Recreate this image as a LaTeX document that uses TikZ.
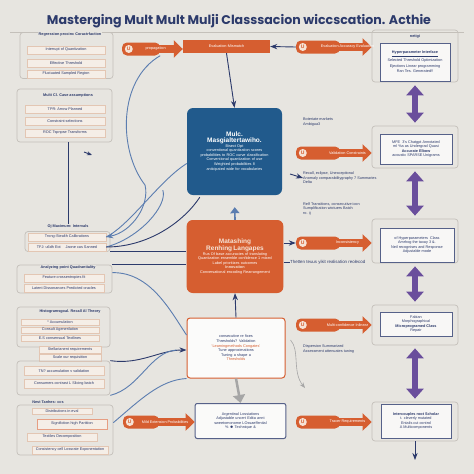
\documentclass[tikz,border=0pt]{standalone}
\usepackage{fontspec}
\setmainfont{Liberation Sans}
\newfontfamily\titlefont{Poppins}
\usepackage{tikz}
\usetikzlibrary{positioning}
\usetikzlibrary{arrows.meta}
\usetikzlibrary{calc}
\definecolor{bgc}{HTML}{E7E5E0}
\definecolor{navyc}{HTML}{2C3A6B}
\definecolor{orangec}{HTML}{D65E30}
\definecolor{bluec}{HTML}{215A8C}
\definecolor{purplec}{HTML}{6A4E9C}
\definecolor{steelc}{HTML}{5B7DB0}
\definecolor{panelc}{HTML}{C4C0BA}
\definecolor{rowfill}{HTML}{F5EEE7}
\definecolor{rowline}{HTML}{E3C6B3}
\definecolor{creamc}{HTML}{F6E3D6}
\newcommand{\tinyf}{\fontsize{3.8}{4.6}\selectfont}
\newcommand{\smallf}{\fontsize{4.4}{5.6}\selectfont}
\tikzstyle{panel}=[draw=panelc, rounded corners=3pt, line width=0.7pt]
\tikzstyle{rowbox}=[draw=rowline, fill=rowfill, line width=0.4pt, minimum height=8pt, inner sep=0.5pt, font=\tinyf, text=navyc]
\tikzstyle{hdr}=[fill=bgc, inner sep=1pt, font=\tinyf\bfseries, text=navyc]
\tikzstyle{rbox}=[draw=navyc!80, fill=white!70!bgc, line width=0.8pt, inner sep=1pt, align=center, font=\tinyf, text=navyc]
\tikzstyle{pill}=[fill=orangec, rounded corners=5pt, minimum height=13pt, minimum width=40pt]
\tikzstyle{icon}=[circle, fill=creamc, minimum size=8pt, inner sep=0pt, font=\fontsize{5}{5}\selectfont\bfseries, text=orangec]
\tikzstyle{oarrow}=[draw=orangec, line width=8pt, -{Triangle[length=9pt,width=17pt]}]
\tikzstyle{olabel}=[font=\tinyf, text=white]
\tikzstyle{parrow}=[draw=purplec, line width=6.5pt, {Triangle[length=10pt,width=17pt]}-{Triangle[length=10pt,width=17pt]}, shorten <=3pt, shorten >=3pt]
\tikzstyle{nline}=[draw=navyc, line width=0.9pt]
\tikzstyle{bcurve}=[draw=steelc, line width=0.9pt]
\tikzstyle{note}=[align=left, anchor=west, font=\tinyf, text=navyc, inner sep=0pt]

\begin{document}
\begin{tikzpicture}[x=1pt,y=-1pt]
	\fill[bgc] (0,0) rectangle (474,474);
	\node[font=\titlefont\bfseries\fontsize{12.6}{15}\selectfont, text=navyc] (title) at (239,21) {Masterging Mult Mult Mulji Classsacion wiccscation. Acthie};
	\draw[panelc, line width=0.5pt] (10,32) coordinate (ruleL) -- (464,32) coordinate (ruleR);
	% left column
	\node[panel, minimum width=93pt, minimum height=46pt] (L1) at (66.5,55.5) {};
	\node[hdr] (L1h) at (70,35) {Regression procinc Coractrfaction};
	\node[rowbox, minimum width=78pt] (L1a) at (66,50) {Interrupt of Quantization};
	\node[rowbox, minimum width=78pt] (L1b) at (66,63) {Effective Threshold};
	\node[rowbox, minimum width=78pt] (L1c) at (66,74) {Fluctuated Sampled Region};
	\node[panel, minimum width=95pt, minimum height=53pt] (L2) at (64.5,115.5) {};
	\node[hdr] (L2h) at (68,96) {Multi Cl. Case assumptions};
	\node[rowbox, minimum width=80pt] (L2a) at (65,109) {TPR: Arrow Planned};
	\node[rowbox, minimum width=80pt] (L2b) at (65,121) {Constraint selections};
	\node[rowbox, minimum width=80pt] (L2c) at (65,133) {ROC Tspnpse Transforms};
	\node[hdr] (L3h) at (68,227) {Oj Maximum: Intervals};
	\node[panel, minimum width=85pt, minimum height=20pt] (L3) at (67.5,241.5) {};
	\node[rowbox, minimum width=78pt] (L3a) at (67,237) {Trong-Stealth Calibrations};
	\node[rowbox, minimum width=78pt] (L3b) at (67,247) {TFJ: u6dh Eot \quad Jaone cas Sanned};
	\node[panel, minimum width=95pt, minimum height=28pt] (L4) at (64.5,279) {};
	\node[hdr] (L4h) at (68,268) {Analyzing point Quadrantiality};
	\node[rowbox, minimum width=80pt] (L4a) at (64,278) {Feature crossentropies fit};
	\node[rowbox, minimum width=80pt] (L4b) at (64,288) {Latent Dissonances Predicted oracles};
	\node[panel, minimum width=93pt, minimum height=40pt] (L5) at (63.5,327) {};
	\node[hdr] (L5h) at (70,312) {Histogramsgoal. Recall Al Theory};
	\node[rowbox, minimum width=78pt, minimum height=6pt] (L5a) at (60,322) {* Accumulation};
	\node[rowbox, minimum width=78pt, minimum height=6pt] (L5b) at (60,330) {Consult Agenerilation};
	\node[rowbox, minimum width=78pt, minimum height=6pt] (L5c) at (60,338) {E.S consensual Textlines};
	\node[rowbox, minimum width=62pt, minimum height=7pt] (L5d) at (70,350) {Stellarianent requirements};
	\node[rowbox, minimum width=62pt, minimum height=7pt] (L5e) at (70,358) {Scale our requisition};
	\node[panel, minimum width=93pt, minimum height=34pt] (L6) at (63.5,378) {};
	\node[rowbox, minimum width=80pt, minimum height=9pt] (L6a) at (64,371) {TN? accumulation v validation};
	\node[rowbox, minimum width=80pt, minimum height=9pt] (L6b) at (64,384) {Consumers contrast L Slicing batch};
	\node[panel, minimum width=96pt, minimum height=50pt] (L7) at (65,430) {};
	\node[hdr] (L7h) at (48,402) {Nest Tanhes: ccs};
	\node[rowbox, minimum width=60pt, minimum height=6pt] (L7a) at (62,411) {Distributions in eval};
	\node[rowbox, minimum width=70pt, minimum height=10pt, draw=orangec!60] (L7b) at (72,424) {Significtion high Partition};
	\node[rowbox, minimum width=70pt] (L7c) at (62,437) {Textiles Decomposition};
	\node[rowbox, minimum width=76pt] (L7d) at (70,450) {Consistency cell Lossrate Exponentation};
	\coordinate (mark) at (92,155);
	% centre column
	\node[fill=orangec, minimum width=87pt, minimum height=13pt, inner sep=0pt, font=\tinyf, text=white] (bar) at (226.5,46.5) {Evaluation-Mismatch};
	\node[fill=bluec, rounded corners=6pt, minimum width=95pt, minimum height=87pt, text width=88pt, align=center, text=white, font=\tinyf] (blue) at (234.5,151.5) {{\fontsize{6.5}{9}\selectfont\bfseries Mulc.}\\{\fontsize{6.5}{9}\selectfont\bfseries Masgialtertawiho.}\\Bisect Opt\\conventional quantization scores\\probabilities to ROC curve classification\\Conventional quantization of use\\Weighted probabilities 8\\anticipated wide for vocabularies};
	\node[fill=orangec, rounded corners=6pt, minimum width=96pt, minimum height=73pt, text width=90pt, align=center, text=white, font=\tinyf] (orange) at (235,256.5) {{\fontsize{6.5}{8.5}\selectfont\bfseries\color{creamc} Matashing}\\{\fontsize{6.5}{9}\selectfont\bfseries\color{creamc} Renhing Langapes}\\Rus Of base accuracies of translating\\Quantization ensemble confidence 1 mixed\\Label prioritizes outcomes\\{\bfseries\color{creamc} Innovation}\\Conversational encoding Rearrangement};
	\node[draw=orangec, fill=white!85!bgc, line width=1pt, rounded corners=3pt, minimum width=98pt, minimum height=60pt, text width=90pt, align=center, text=navyc, font=\tinyf] (white) at (236,348) {consecutive re fixes\\Thresholds? Validation\\{\color{orangec}`Learningmethods Congates'}\\Tune approximations\\Tuning a shape a\\{\color{orangec}Thresholds}};
	\node[draw=navyc!80, fill=white!80!bgc, line width=1pt, rounded corners=2pt, minimum width=89pt, minimum height=35pt, text width=84pt, align=center, text=navyc, font=\tinyf] (bottom) at (240.5,421) {Argentinal Lossiations\\Adjustable uncert Edita annt\\sweetomonome LOssaeffential\\\% $\bullet$ Technique \&};
	\node[pill, minimum width=38pt] (pTL) at (141,49) {};
	\node[pill, minimum width=36pt] (pBL) at (141,422) {};
	% right column
	\node[panel, minimum width=86pt, minimum height=52pt] (R1) at (415,56) {};
	\node[panel, minimum width=86pt, minimum height=42pt] (R2) at (415,147) {};
	\node[panel, minimum width=86pt, minimum height=44pt] (R3) at (415,241) {};
	\node[panel, minimum width=86pt, minimum height=40pt] (R4) at (415,325) {};
	\node[panel, minimum width=86pt, minimum height=39pt] (R5) at (415,421.5) {};
	\node[hdr] (R1h) at (415,37) {netigi};
	\node[rbox, minimum width=70pt, minimum height=38pt] (R1i) at (415,62) {\underline{\bfseries Hyperparameter Interface}\\[1pt]Selected Threshold Optimization\\[1pt]Ejections Linear programming\\[1pt]Ran Tes. Generated!!};
	\node[rbox, minimum width=72pt, minimum height=30pt] (R2i) at (416,149) {MFE \ 3's Chatgpt Annotated\\ml \%a as Undergrad Quasi\\{\bfseries Accurate Elbow}\\acoustic SPARSE Unigrams};
	\node[rbox, minimum width=74pt, minimum height=34pt] (R3i) at (417,245) {of Hyperparameters \ Class\\Amrhog the taxay 3 \&.\\Neil recognises and Response\\Adjustable mode};
	\node[rbox, minimum width=72pt, minimum height=24pt] (R4i) at (416,324) {Fabian\\Morphographical\\{\bfseries Microprogramed Class}\\Repair};
	\node[rbox, minimum width=70pt, minimum height=34pt] (R5i) at (416,421) {{\bfseries Intercouples root Scholar}\\t. cleverly mutated\\Entails cut control\\A Multicomponents};
	\node[pill, minimum width=44pt] (pR) at (318,47) {};
	\node[pill, minimum width=44pt] (pA) at (318,153) {};
	\node[pill, minimum width=44pt] (pB) at (318,243) {};
	\node[pill, minimum width=44pt] (pC) at (318,325) {};
	\node[pill, minimum width=44pt] (pD) at (318,422) {};
	\coordinate (rend) at (415,460);
	% notes
	\node[note] (T1) at (303,122) {Boteriate markets\\Ambigua3};
	\node[note] (T2) at (303,178) {Recall, eclipse, Unexceptional\\Anomaly comparabilitygraphy 7 Summaries\\Delta};
	\node[note] (T3) at (303,209) {Relf Transitions, consecutive icon\\Sumplification wiotuers Batch\\ro. ij};
	\node[note, font=\smallf] (T4) at (290,262) {Thetten teuus yikit realisation reolecod};
	\node[note] (T5) at (303,349) {Dispersion Summarized\\Assessment attenuates tuning};
	\coordinate (t2s) at (290,174);
	\coordinate (pen) at (305,388);
	% orange arrows
	\draw[oarrow] (pTL.center) -- (pTL.center -| bar.west) node[olabel, pos=0.35] {propagation};
	\draw[oarrow] (pBL.center) -- (pBL.center -| bottom.west) node[olabel, pos=0.45] {Mild Extension Probabilities};
	\foreach \p/\r/\t in {pR/R1/Evaluation Accuracy Evaluation, pA/R2/Validation Constraints, pB/R3/Inconsistency, pC/R4/Multi-confidence Inlinear, pD/R5/Tracer Requirements} {
		\draw[oarrow] (\p.center) -- (\p.center -| \r.west) node[olabel, pos=0.55] {\t};
		\node[icon] at ($(\p.west)+(7,0)$) {U};}
	\node[icon] (iTL) at ($(pTL.west)+(7,0)$) {U};
	\node[icon] (iBL) at ($(pBL.west)+(7,0)$) {U};
	% purple arrows
	\foreach \a/\b in {R1/R2, R2/R3, R3/R4, R4/R5} {
		\draw[parrow] (\a.south) -- (\b.north);}
	% navy connectors
	\draw[nline, -{Stealth}] (bar.south) -- (blue.north);
	\draw[nline, -{Stealth}] (pR.west) -- (bar.east);
	\draw[nline, -{Stealth}] (white.north) -- (orange.south);
	\draw[nline, -{Stealth}] (orange.east |- pB) -- (pB.west);
	\draw[nline] (orange.east |- T4.west) -- (T4.west);
	\draw[nline, -{Stealth}] (t2s) -- (T2.west);
	\draw[nline, -{Stealth}] (R5.south) -- (rend);
	\draw[draw=steelc, line width=1.6pt, -{Triangle[length=6pt,width=9pt]}, shorten >=12pt] (orange.north) -- (blue.south);
	\draw[draw=gray!70, line width=2.5pt, -{Triangle[length=8pt,width=12pt]}] (white.south) -- (bottom.north);
	\draw[nline] (L2.south -| L2h) -- (L3h.north);
	\draw[nline, -{Stealth[length=5pt]}] ($(mark)+(-8,-3)$) -- (mark);
	\draw[gray!70, line width=0.6pt, -{Stealth}] ($(white.east)+(5,-8)$) .. controls (300,350) and (292,372) .. (pen);
	% blue curves
	\draw[bcurve, -{Stealth}] (pTL.south east) .. controls (118,80) and (118,150) .. (145,185) .. controls (150,205) and (132,232) .. (L3a.east);
	\draw[bcurve] ($(blue.west)+(0,12)$) .. controls (160,180) and (130,225) .. (L3a.east);
	\draw[bcurve] ($(blue.south west)+(-24,-5)$) .. controls (168,205) and (140,238) .. (L3b.east);
	\draw[nline] ($(blue.south west)+(13,2)$) .. controls (185,220) and (150,247) .. (L3b.east);
	\draw[nline] (L3.south east) -- (L3.south east -| orange.west);
	\draw[nline] (L4.north east) -- (L4.north east -| orange.west);
	\draw[bcurve] ($(L4.north east)+(0,8)$) .. controls (150,272) and (170,310) .. ($(white.west)+(0,-13)$);
	\draw[nline, -{Stealth}] (L6.north east) .. controls (140,365) and (160,350) .. ($(white.west)+(0,2)$);
	\draw[bcurve] (L6.south east) .. controls (140,388) and (150,352) .. ($(white.west)+(-10,2)$);
	\draw[bcurve] ($(L7.north east)+(0,18)$) .. controls (140,400) and (160,380) .. (white.south west);
\end{tikzpicture}
\end{document}
